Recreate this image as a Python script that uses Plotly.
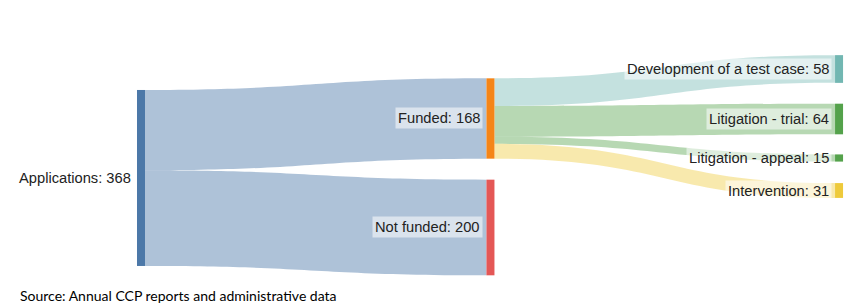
import plotly.graph_objects as go

# ---- data ----
node_names = ["Applications", "Funded", "Not funded",
              "Development of a test case", "Litigation - trial",
              "Litigation - appeal", "Intervention"]
link_source = [0, 0, 1, 1, 1, 1]
link_target = [1, 2, 3, 4, 5, 6]
link_values = [168, 200, 58, 64, 15, 31]
source_note = "Source: Annual CCP reports and administrative data"

# node totals derived from the flows
totals = [0] * len(node_names)
for t, v in zip(link_target, link_values):
    totals[t] += v
totals[0] = sum(v for s, v in zip(link_source, link_values) if s == 0)
labels = [f"{n}: {v}" for n, v in zip(node_names, totals)]

# ---- styles / layout ----
W, H = 865, 305
node_colors = ["#4c78a8", "#f58518", "#e45756", "#72b7b2", "#54a24b", "#54a24b", "#eeca3b"]
link_colors = ["rgba(76,120,168,0.45)", "rgba(76,120,168,0.45)",
               "rgba(114,183,178,0.42)", "rgba(84,162,75,0.42)",
               "rgba(84,162,75,0.42)", "rgba(238,202,59,0.42)"]
node_x = [0.163, 0.567, 0.567, 0.970, 0.970, 0.970, 0.970]
node_y = [0.557, 0.2854, 0.7831, 0.0594, 0.2877, 0.4658, 0.6142]
dom_y = [0.0984, 0.8164]
thickness = 8
label_gap = 3

fig = go.Figure(go.Sankey(
    arrangement="fixed",
    domain=dict(x=[0, 1], y=dom_y),
    node=dict(label=[""] * len(labels), customdata=labels, hovertemplate="%{customdata}<extra></extra>",
              color=node_colors, x=node_x, y=node_y, align="left",
              pad=43, thickness=thickness, line=dict(width=0)),
    link=dict(source=link_source, target=link_target, value=link_values,
              color=link_colors),
))

# node labels placed to the left of each node, with a light box
for lab, nx, ny in zip(labels, node_x, node_y):
    fig.add_annotation(
        text=lab, xref="paper", yref="paper",
        x=nx - (thickness / 2 + label_gap) / W,
        y=dom_y[1] - ny * (dom_y[1] - dom_y[0]),
        xanchor="right", yanchor="middle", showarrow=False,
        bgcolor="rgba(255,255,255,0.55)", borderpad=2,
        font=dict(family="Liberation Sans, Arial", size=14.7, color="#222"))

fig.add_annotation(text=source_note, xref="paper", yref="paper", x=18 / W, y=1 - 295 / H,
                   xanchor="left", yanchor="middle", showarrow=False,
                   font=dict(family="Lato", size=14, color="#000"))

fig.update_layout(width=W, height=H, margin=dict(l=0, r=0, t=0, b=0),
                  paper_bgcolor="white", plot_bgcolor="white")
fig.write_html("out.html")
